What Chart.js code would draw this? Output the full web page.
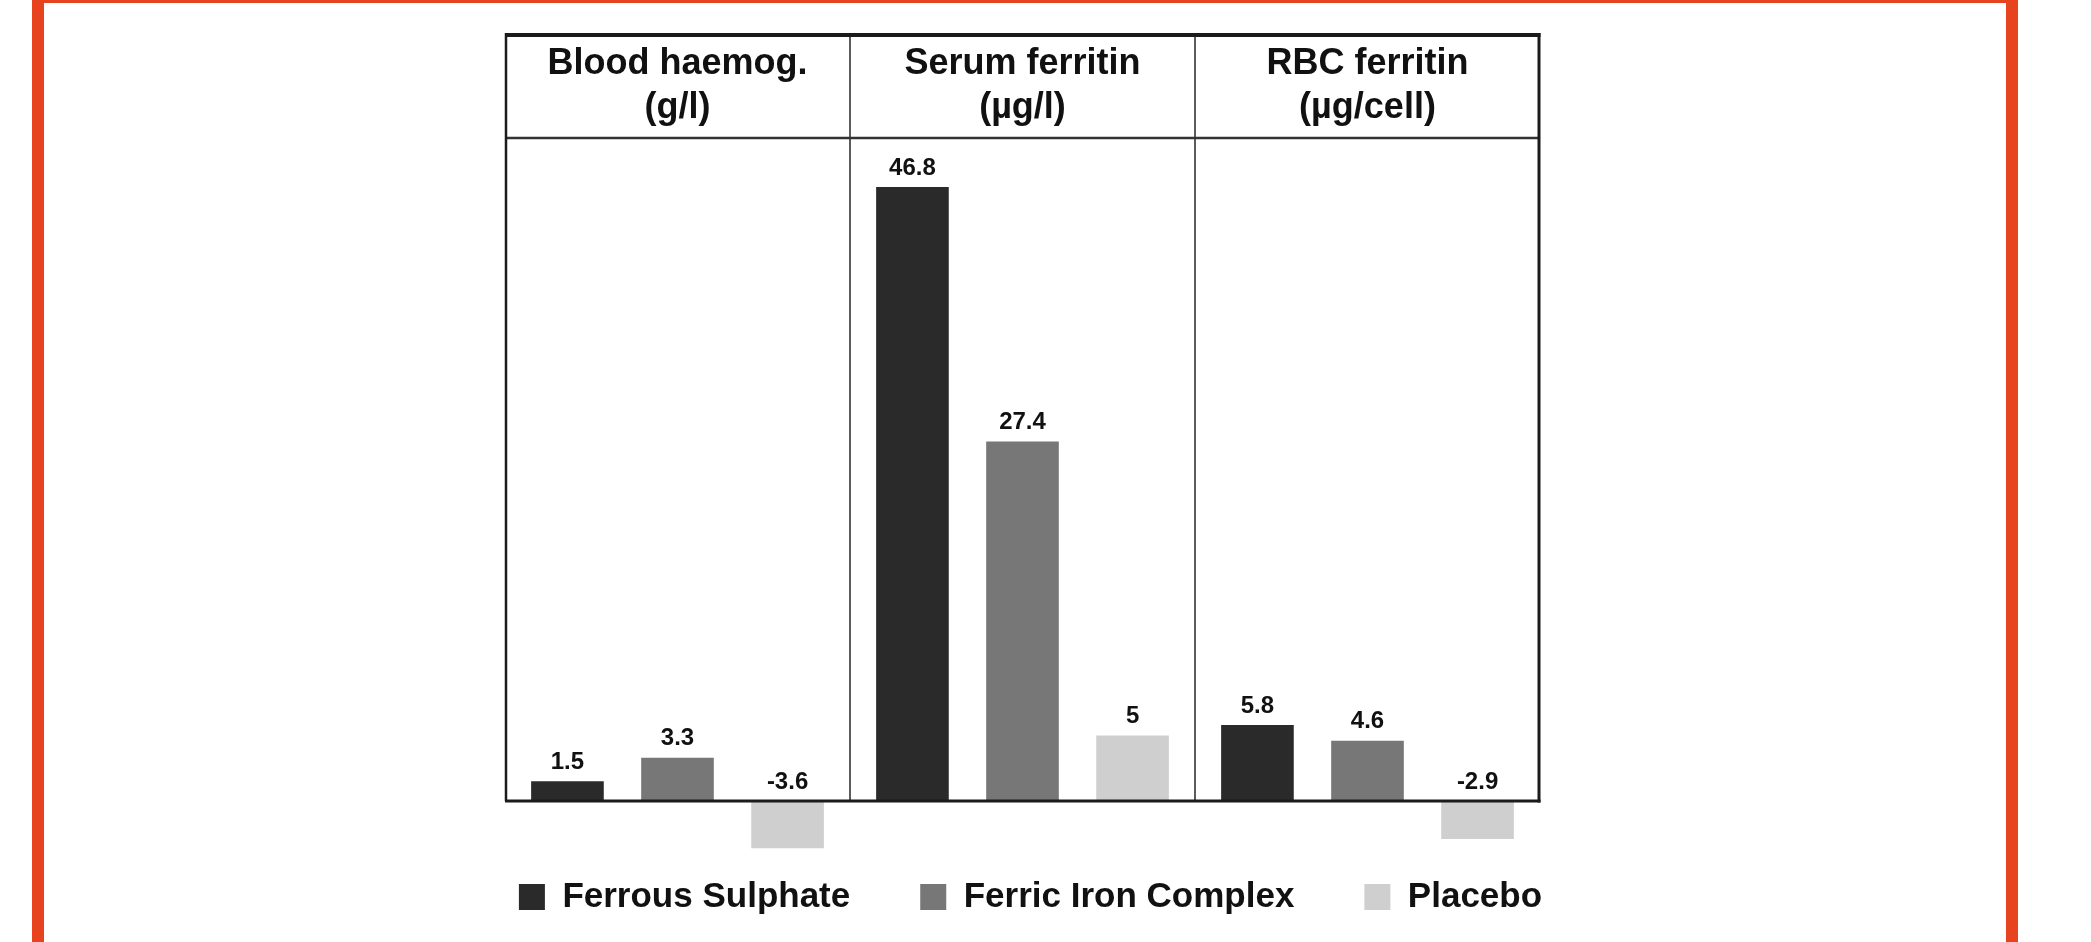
<!DOCTYPE html>
<html>
<head>
<meta charset="utf-8">
<script src="https://cdn.jsdelivr.net/npm/chart.js@4.4.1/dist/chart.umd.min.js"></script>
<style>
  html, body { margin: 0; padding: 0; background: #ffffff; width: 2091px; height: 942px; overflow: hidden; }
  #chartBox { position: absolute; left: 0; top: 0; width: 2091px; height: 942px; }
  #redFrame { position: absolute; left: 32px; top: 0; width: 1986px; height: 942px; box-sizing: border-box;
              border-left: 12px solid #e8431f; border-right: 12px solid #e8431f; border-top: 3px solid #e8431f;
              pointer-events: none; }
</style>
</head>
<body>
<div id="chartBox"><canvas id="c" width="2091" height="942"></canvas></div>
<div id="redFrame"></div>
<script>
// ---- data ----
const categories = [
  ['Blood haemog.', '(g/l)'],
  ['Serum ferritin', '(µg/l)'],
  ['RBC ferritin', '(µg/cell)']
];
const seriesNames = ['Ferrous Sulphate', 'Ferric Iron Complex', 'Placebo'];
const ferrousSulphate = [1.5, 46.8, 5.8];
const ferricIronComplex = [3.3, 27.4, 4.6];
const placebo = [-3.6, 5, -2.9];

// ---- styles ----
const FONT = '"Liberation Sans", Arial, Helvetica, sans-serif';
const colors = ['#2a2a2a', '#777777', '#cfcfcf'];

const frameLines = {
  id: 'frameLines',
  afterDatasetsDraw(chart) {
    const { ctx, chartArea: a, scales: { x, y } } = chart;
    const y0 = y.getPixelForValue(0);
    const top = x.top;
    const n = chart.data.labels.length;
    const step = (a.right - a.left) / n;
    ctx.save();
    ctx.lineCap = 'butt';
    // dividers between categories
    ctx.strokeStyle = '#333333';
    ctx.lineWidth = 1.6;
    for (let i = 1; i < n; i++) {
      const px = a.left + step * i;
      ctx.beginPath(); ctx.moveTo(px, top); ctx.lineTo(px, y0); ctx.stroke();
    }
    // header separator
    ctx.lineWidth = 2.5;
    ctx.beginPath(); ctx.moveTo(a.left, a.top); ctx.lineTo(a.right, a.top); ctx.stroke();
    // outer box
    ctx.strokeStyle = '#1b1b1b';
    ctx.lineWidth = 2.5;
    ctx.beginPath(); ctx.moveTo(a.left + 1, top); ctx.lineTo(a.left + 1, y0); ctx.stroke();
    ctx.lineWidth = 3;
    ctx.beginPath(); ctx.moveTo(a.right - 1, top); ctx.lineTo(a.right - 1, y0 + 1.5); ctx.stroke();
    ctx.lineWidth = 4;
    ctx.beginPath(); ctx.moveTo(a.left, top + 2); ctx.lineTo(a.right + 0.5, top + 2); ctx.stroke();
    ctx.lineWidth = 3;
    ctx.beginPath(); ctx.moveTo(a.left, y0); ctx.lineTo(a.right + 0.5, y0); ctx.stroke();
    ctx.restore();
  }
};

const valueLabels = {
  id: 'valueLabels',
  afterDatasetsDraw(chart) {
    const { ctx } = chart;
    ctx.save();
    ctx.font = 'bold 24px ' + FONT;
    ctx.fillStyle = '#111111';
    ctx.textAlign = 'center';
    ctx.textBaseline = 'middle';
    chart.data.datasets.forEach((ds, i) => {
      const meta = chart.getDatasetMeta(i);
      meta.data.forEach((bar, j) => {
        const v = ds.data[j];
        const yTop = Math.min(bar.y, bar.base);
        ctx.fillText(String(v), bar.x, yTop - 19);
      });
    });
    ctx.restore();
  }
};

new Chart(document.getElementById('c'), {
  type: 'bar',
  data: {
    labels: categories,
    datasets: [
      { label: seriesNames[0], data: ferrousSulphate, backgroundColor: colors[0] },
      { label: seriesNames[1], data: ferricIronComplex, backgroundColor: colors[1] },
      { label: seriesNames[2], data: placebo, backgroundColor: colors[2] }
    ]
  },
  options: {
    responsive: false,
    animation: false,
    devicePixelRatio: 1,
    layout: { padding: { top: 33, bottom: 17.5, left: 0, right: 30 } },
    datasets: {
      bar: { categoryPercentage: 0.957, barPercentage: 0.66, borderWidth: 0, clip: false }
    },
    scales: {
      x: {
        position: 'top',
        offset: true,
        grid: { display: false, drawTicks: false },
        border: { display: false },
        ticks: {
          color: '#111111',
          font: { family: FONT, size: 36, weight: 'bold', lineHeight: 1.22 },
          padding: 8, maxRotation: 0, autoSkip: false
        },
        afterFit(s) { s.height = 105; }
      },
      y: {
        min: -0.648, max: 50.53,
        grid: { display: false },
        border: { display: false },
        ticks: { display: false },
        afterFit(s) { s.width = 505; }
      },
      y2: {
        position: 'right',
        grid: { display: false },
        border: { display: false },
        ticks: { display: false },
        afterFit(s) { s.width = 521; }
      }
    },
    plugins: {
      tooltip: { enabled: false },
      legend: {
        position: 'bottom',
        labels: {
          boxWidth: 26, boxHeight: 26, padding: 70,
          color: '#111111',
          font: { family: FONT, size: 35, weight: 'bold' }
        }
      }
    }
  },
  plugins: [frameLines, valueLabels]
});
</script>
</body>
</html>
